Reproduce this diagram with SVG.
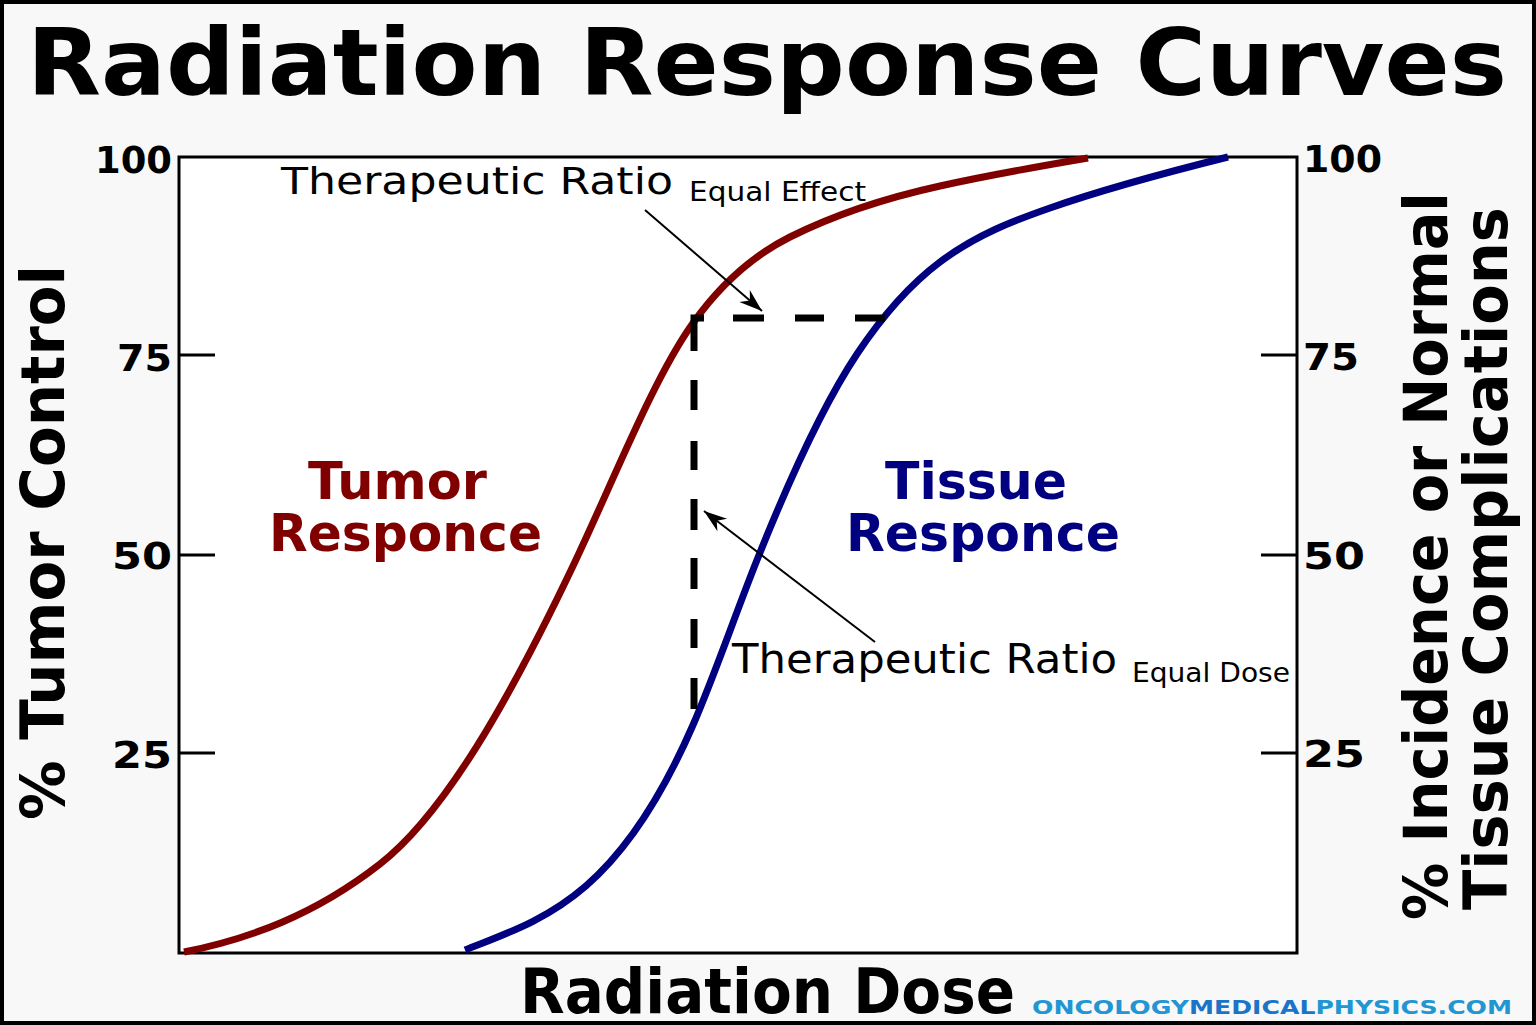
<svg xmlns="http://www.w3.org/2000/svg" width="1536" height="1025" viewBox="0 0 1536 1025">
<defs>
<style>
.t{font-family:"DejaVu Sans","Liberation Sans",sans-serif;fill:#000}
.b{font-weight:bold}
.tick{stroke:#000;stroke-width:3;fill:none}
.dash{stroke:#000;stroke-width:7;fill:none}
.curve{fill:none;stroke-width:7;stroke-linecap:butt}
.arr{stroke:#000;stroke-width:2;fill:none;marker-end:url(#ah)}
</style>
<marker id="ah" markerUnits="userSpaceOnUse" viewBox="-25 -10 26 20" refX="0" refY="0" markerWidth="26" markerHeight="20" orient="auto">
<path d="M0,0 L-23,-8 L-16,0 L-23,8 Z" fill="#000"/>
</marker>
</defs>
<rect x="2" y="2" width="1532" height="1021" fill="#f8f8f8" stroke="#000" stroke-width="4"/>
<text class="t b" x="27" y="95" font-size="92" textLength="1480" lengthAdjust="spacingAndGlyphs">Radiation Response Curves</text>

<g id="plot">
<rect x="179" y="157" width="1118" height="796" fill="#fff" stroke="#000" stroke-width="3"/>
<path class="tick" d="M179,355H215M179,555H215M179,753H215M1261,355H1297M1261,555H1297M1261,753H1297"/>
</g>

<g id="axis-labels">
<text class="t b" x="95" y="173" font-size="38" textLength="77" lengthAdjust="spacingAndGlyphs">100</text>
<text class="t b" x="117" y="371" font-size="38" textLength="55" lengthAdjust="spacingAndGlyphs">75</text>
<text class="t b" x="112" y="569" font-size="38" textLength="60" lengthAdjust="spacingAndGlyphs">50</text>
<text class="t b" x="112" y="768" font-size="38" textLength="60" lengthAdjust="spacingAndGlyphs">25</text>
<text class="t b" x="1303" y="172" font-size="38" textLength="79" lengthAdjust="spacingAndGlyphs">100</text>
<text class="t b" x="1303" y="370" font-size="38" textLength="56" lengthAdjust="spacingAndGlyphs">75</text>
<text class="t b" x="1303" y="569" font-size="38" textLength="62" lengthAdjust="spacingAndGlyphs">50</text>
<text class="t b" x="1303" y="767" font-size="38" textLength="62" lengthAdjust="spacingAndGlyphs">25</text>
<text class="t b" transform="translate(64,820) rotate(-90)" font-size="60" textLength="555" lengthAdjust="spacingAndGlyphs">% Tumor Control</text>
<text class="t b" transform="translate(1447,920) rotate(-90)" font-size="60" textLength="728" lengthAdjust="spacingAndGlyphs">% Incidence or Normal</text>
<text class="t b" transform="translate(1507,910) rotate(-90)" font-size="60" textLength="703" lengthAdjust="spacingAndGlyphs">Tissue Complications</text>
<text class="t b" x="520" y="1013" font-size="62" textLength="495" lengthAdjust="spacingAndGlyphs">Radiation Dose</text>
</g>

<g id="tumor-curve">
<path class="curve" stroke="#800000" d="M184,952 C249.3,938.9 314.7,915 380,864 C444.3,813.8 508.7,701.1 573,566 C613,482 653,379 693,323 C725.3,277.7 757.7,253.2 790,237 C840,212 890,197 940,186 C989.3,175.1 1038.7,166.4 1088,158"/>
<text class="t b" x="308" y="499" font-size="52" style="fill:#800000" textLength="179" lengthAdjust="spacingAndGlyphs">Tumor</text>
<text class="t b" x="269" y="551" font-size="52" style="fill:#800000" textLength="273" lengthAdjust="spacingAndGlyphs">Responce</text>
</g>

<g id="tissue-curve">
<path class="curve" stroke="#000080" d="M465,950 C541,919.6 617,899.8 693,725 C714.3,675.9 735.7,613.3 757,560 C790.3,476.7 823.7,404 857,354 C884.7,312.5 912.3,282.75 940,262 C976.7,234.5 1013.3,220.8 1050,208 C1109.3,187.2 1168.7,171.8 1228,157"/>
<text class="t b" x="885" y="499" font-size="52" style="fill:#000080" textLength="182" lengthAdjust="spacingAndGlyphs">Tissue</text>
<text class="t b" x="846" y="551" font-size="52" style="fill:#000080" textLength="274" lengthAdjust="spacingAndGlyphs">Responce</text>
</g>

<g id="connectors">
<path class="dash" d="M694,709V678M694,648V619M694,589V558M694,530V499M694,470V441M694,410V380M694,351V314.5M690.5,318H704M733,318H764M795,318H824M855,318H885"/>
<path class="arr" d="M645,210L762,311"/>
<path class="arr" d="M875,642L704,511"/>
</g>

<g id="ratio-equal-effect">
<text class="t" x="281" y="194" font-size="38" textLength="392" lengthAdjust="spacingAndGlyphs">Therapeutic Ratio</text>
<text class="t" x="689" y="201" font-size="26" textLength="177" lengthAdjust="spacingAndGlyphs">Equal Effect</text>
</g>

<g id="ratio-equal-dose">
<text class="t" x="732" y="673" font-size="40" textLength="385" lengthAdjust="spacingAndGlyphs">Therapeutic Ratio</text>
<text class="t" x="1132" y="682" font-size="27" textLength="158" lengthAdjust="spacingAndGlyphs">Equal Dose</text>
</g>

<text class="t b" x="1032" y="1014" font-size="19" textLength="480" lengthAdjust="spacingAndGlyphs" style="fill:#2196d3">ONCOLOGY<tspan style="fill:#1a74c8">MEDICAL</tspan>PHYSICS.COM</text>
</svg>
